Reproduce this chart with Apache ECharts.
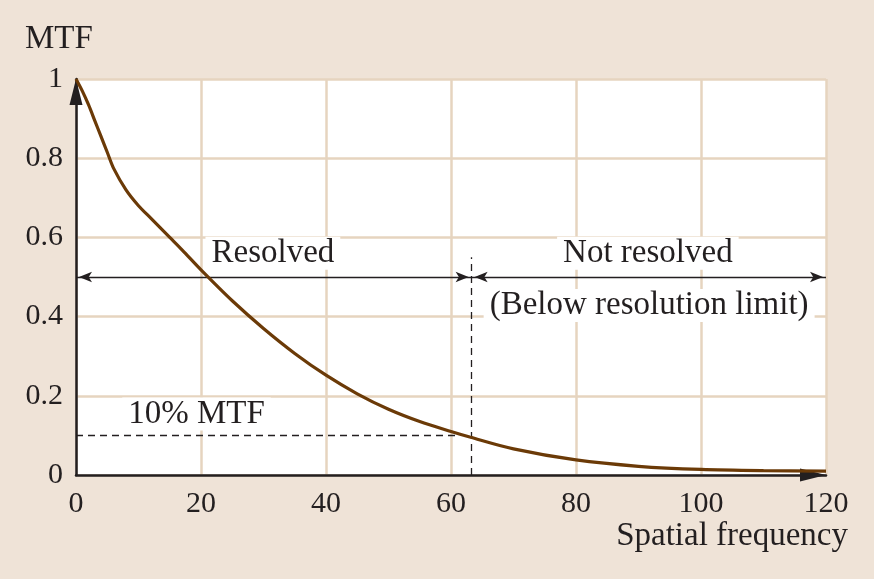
<!DOCTYPE html>
<html>
<head>
<meta charset="utf-8">
<title>MTF</title>
<script src="https://cdn.jsdelivr.net/npm/echarts@6/dist/echarts.min.js"></script>
<style>
  html, body { margin: 0; padding: 0; background: #efe3d7; }
  #chart { width: 874px; height: 579px; }
</style>
</head>
<body>
<div id="chart"></div>
<script>
// MTF curve
var freq = [0, 1, 2, 3, 4, 5, 6, 8, 10, 12, 15, 17, 20, 25, 30, 35, 40, 45, 50, 55, 60, 63, 70, 80, 90, 100, 110, 120];
var mtf  = [1.0, 0.97, 0.935, 0.895, 0.855, 0.815, 0.775, 0.72, 0.68, 0.648, 0.60, 0.568, 0.518, 0.44, 0.37, 0.307, 0.252, 0.205, 0.166, 0.135, 0.110, 0.096, 0.066, 0.038, 0.022, 0.014, 0.011, 0.01];

var xRange = [0, 120, 20];
var yRange = [0, 1, 0.2];

var limitFreq = 63.3;    // where the curve drops to 10%
var threshold = 0.1;     // 10% MTF
var dashEnd = 61;
var limitTop = 0.55;
var arrowLevel = 0.5;

var noteText = ['Resolved', 'Not resolved', '(Below resolution limit)', '10% MTF'];
var noteAt = [[31.5, 0.56], [91.5, 0.56], [91.7, 0.428], [7.4, 0.154]];
var noteAlign = ['center', 'center', 'center', 'left'];

var ink = '#231f20';
var serif = '"Liberation Serif", "Times New Roman", serif';

var curve = [];
for (var i = 0; i < freq.length; i++) {
    curve.push([freq[i], mtf[i]]);
}

var chart = echarts.init(document.getElementById('chart'));
chart.setOption({
    backgroundColor: '#efe3d7',
    animation: false,
    grid: {
        left: 76, right: 48, top: 79, bottom: 104,
        show: true, backgroundColor: '#fff', borderWidth: 0
    },
    xAxis: {
        type: 'value',
        min: xRange[0], max: xRange[1], interval: xRange[2],
        axisLine: {
            show: true, onZero: false,
            symbol: ['none', 'triangle'], symbolSize: [13, 26], symbolOffset: [0, -13],
            lineStyle: { color: ink, width: 2.5 }
        },
        axisTick: { show: false },
        axisLabel: { margin: 14, fontSize: 30, fontFamily: serif, color: ink },
        splitLine: { show: true, lineStyle: { color: '#e6d4bf', width: 2.5 } }
    },
    yAxis: {
        type: 'value',
        min: yRange[0], max: yRange[1], interval: yRange[2],
        axisLine: {
            show: true, onZero: false,
            symbol: ['none', 'triangle'], symbolSize: [13, 26], symbolOffset: [0, -13],
            lineStyle: { color: ink, width: 2.5 }
        },
        axisTick: { show: false },
        axisLabel: { margin: 13, fontSize: 30, fontFamily: serif, color: ink },
        splitLine: { show: true, lineStyle: { color: '#e6d4bf', width: 2.5 } }
    },
    series: [
        {
            type: 'line',
            data: curve,
            symbol: 'none',
            smooth: 0.3,
            lineStyle: { color: '#6b3a07', width: 3.2 },
            z: 5,
            markLine: {
                silent: true,
                symbol: 'none',
                label: { show: false },
                lineStyle: { color: ink, width: 1.3, type: [7, 5] },
                data: [
                    [{ coord: [0, threshold] }, { coord: [dashEnd, threshold] }],
                    [{ coord: [limitFreq, 0] }, { coord: [limitFreq, limitTop] }]
                ]
            }
        },
        {
            type: 'line',
            data: [],
            markLine: {
                silent: true,
                symbol: ['arrow', 'arrow'],
                symbolSize: [8, 13],
                symbolOffset: [[0, 3], [0, 3]],
                label: { show: false },
                lineStyle: { color: ink, width: 1.3, type: 'solid' },
                data: [
                    [{ coord: [xRange[0], arrowLevel] }, { coord: [limitFreq, arrowLevel] }],
                    [{ coord: [limitFreq, arrowLevel] }, { coord: [xRange[1], arrowLevel] }]
                ]
            }
        }
    ]
});

// text notes, placed through the grid's own scale
var graphics = [
    { type: 'text', left: 25, top: 23, style: { text: 'MTF', font: '33px ' + serif, fill: ink } },
    { type: 'text', right: 26, top: 520, style: { text: 'Spatial frequency', font: '33px ' + serif, fill: ink } }
];
for (var k = 0; k < noteText.length; k++) {
    var p = chart.convertToPixel({ gridIndex: 0 }, noteAt[k]);
    graphics.push({
        type: 'text', x: p[0], y: p[1], z: 20,
        style: {
            text: noteText[k], font: '33px ' + serif, fill: ink,
            align: noteAlign[k], verticalAlign: 'middle',
            backgroundColor: '#fff', padding: [0, 6]
        }
    });
}
chart.setOption({ graphic: graphics });
</script>
</body>
</html>
